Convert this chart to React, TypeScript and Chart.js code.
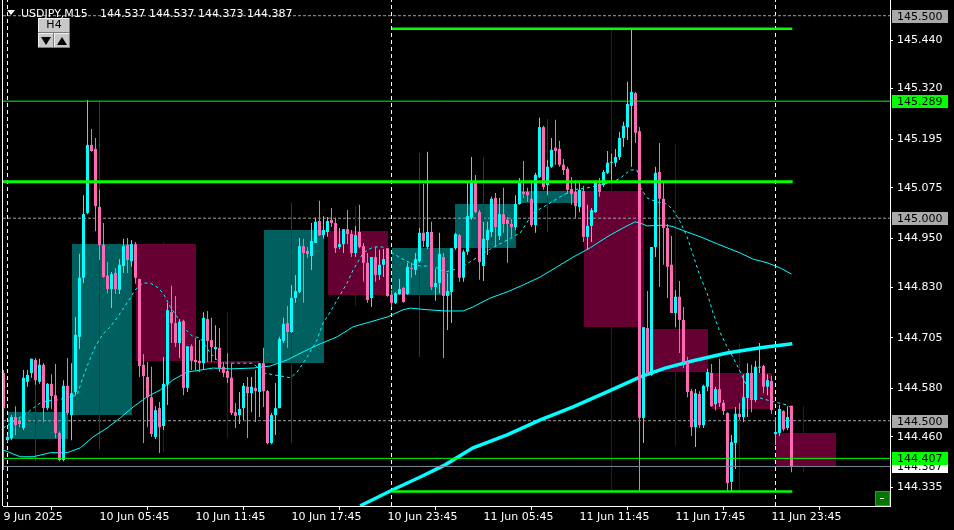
import React, { useEffect, useRef } from 'react';
import { Chart, registerables } from 'chart.js';

Chart.register(...registerables);

// ---------------- data ----------------
const symbol = 'USDJPY';
const timeframe = 'M15';

const opens = [
  144.618, 144.452, 144.457, 144.509, 144.499, 144.482, 144.596, 144.618, 144.650, 144.596,
  144.638, 144.531, 144.591, 144.563, 144.470, 144.403, 144.586, 144.514, 144.571, 144.707,
  144.853, 145.013, 145.181, 145.171, 145.028, 144.934, 144.858, 144.825, 144.865, 144.823,
  144.882, 144.934, 144.894, 144.936, 144.850, 144.638, 144.608, 144.558, 144.460, 144.531,
  144.487, 144.589, 144.768, 144.741, 144.692, 144.746, 144.581, 144.684, 144.650, 144.648,
  144.642, 144.751, 144.699, 144.677, 144.680, 144.633, 144.623, 144.606, 144.521, 144.514,
  144.531, 144.584, 144.568, 144.581, 144.571, 144.642, 144.573, 144.445, 144.514, 144.531,
  144.697, 144.741, 144.719, 144.803, 144.818, 144.931, 144.919, 144.907, 144.939, 144.993,
  144.958, 144.966, 144.996, 144.988, 144.929, 144.936, 144.973, 144.961, 144.914, 144.966,
  144.931, 144.890, 144.803, 144.904, 144.860, 144.885, 144.926, 144.811, 144.791, 144.813,
  144.828, 144.813, 144.877, 144.872, 144.894, 144.964, 144.929, 144.966, 144.830, 144.840,
  144.904, 144.808, 144.818, 144.926, 144.958, 144.853, 144.917, 145.001, 145.087, 145.015,
  144.882, 144.946, 144.966, 145.050, 144.956, 145.010, 144.996, 144.986, 144.978, 145.035,
  145.065, 145.065, 145.048, 144.983, 145.102, 145.225, 145.082, 145.127, 145.174, 145.171,
  145.132, 145.122, 145.072, 145.065, 145.028, 145.067, 144.954, 144.981, 145.015, 145.085,
  145.082, 145.112, 145.137, 145.137, 145.151, 145.198, 145.225, 145.277, 145.309, 145.215,
  144.507, 144.729, 144.613, 144.929, 145.114, 145.048, 144.976, 144.885, 144.766, 144.806,
  144.749, 144.645, 144.573, 144.484, 144.566, 144.489, 144.584, 144.618, 144.541, 144.578,
  144.544, 144.519, 144.349, 144.445, 144.517, 144.509, 144.556, 144.618, 144.551, 144.631,
  144.635, 144.584, 144.598, 144.467, 144.470, 144.524, 144.482, 144.537,
];
const highs = [
  144.625, 144.465, 144.514, 144.536, 144.507, 144.625, 144.625, 144.653, 144.655, 144.653,
  144.642, 144.593, 144.615, 144.640, 144.474, 144.600, 144.655, 144.642, 144.756, 144.912,
  145.057, 145.292, 145.220, 145.198, 145.070, 144.988, 144.892, 144.867, 144.877, 144.899,
  144.949, 144.951, 144.946, 144.941, 144.850, 144.665, 144.645, 144.633, 144.536, 144.546,
  144.657, 144.791, 144.833, 144.808, 144.751, 144.749, 144.684, 144.689, 144.704, 144.699,
  144.768, 144.771, 144.754, 144.736, 144.729, 144.645, 144.667, 144.642, 144.544, 144.571,
  144.593, 144.608, 144.608, 144.625, 144.642, 144.680, 144.576, 144.519, 144.593, 144.707,
  144.754, 144.783, 144.835, 144.860, 144.951, 144.949, 144.929, 144.988, 145.001, 145.043,
  145.005, 145.003, 145.025, 145.001, 144.976, 144.973, 145.020, 144.971, 144.981, 145.033,
  144.939, 144.914, 144.904, 144.929, 144.922, 144.924, 144.926, 144.823, 144.818, 144.850,
  144.830, 144.890, 144.890, 144.914, 144.976, 145.085, 145.164, 144.991, 144.875, 144.964,
  144.914, 144.865, 144.926, 144.964, 144.961, 144.922, 145.087, 145.151, 145.107, 145.020,
  144.991, 144.991, 145.053, 145.062, 145.050, 145.075, 145.003, 144.998, 145.057, 145.099,
  145.141, 145.075, 145.094, 145.112, 145.248, 145.228, 145.144, 145.198, 145.243, 145.191,
  145.146, 145.127, 145.102, 145.094, 145.092, 145.080, 145.033, 145.025, 145.092, 145.099,
  145.119, 145.166, 145.159, 145.171, 145.213, 145.238, 145.337, 145.465, 145.312, 145.225,
  144.731, 144.820, 144.929, 145.127, 145.186, 145.087, 144.986, 144.956, 144.823, 144.845,
  144.781, 144.657, 144.578, 144.578, 144.573, 144.589, 144.628, 144.640, 144.584, 144.653,
  144.551, 144.521, 144.465, 144.534, 144.544, 144.615, 144.642, 144.638, 144.648, 144.692,
  144.638, 144.615, 144.611, 144.509, 144.539, 144.526, 144.536, 144.537,
];
const lows = [
  144.378, 144.447, 144.452, 144.465, 144.484, 144.477, 144.584, 144.606, 144.589, 144.591,
  144.497, 144.526, 144.529, 144.457, 144.400, 144.400, 144.514, 144.452, 144.563, 144.677,
  144.840, 145.010, 145.164, 144.968, 144.897, 144.853, 144.815, 144.778, 144.813, 144.813,
  144.865, 144.865, 144.880, 144.838, 144.608, 144.445, 144.484, 144.460, 144.455, 144.420,
  144.477, 144.539, 144.692, 144.682, 144.655, 144.563, 144.571, 144.625, 144.625, 144.620,
  144.625, 144.645, 144.645, 144.650, 144.620, 144.608, 144.593, 144.514, 144.482, 144.492,
  144.502, 144.457, 144.521, 144.497, 144.509, 144.534, 144.442, 144.442, 144.465, 144.531,
  144.692, 144.680, 144.717, 144.791, 144.815, 144.791, 144.902, 144.872, 144.939, 144.956,
  144.949, 144.954, 144.978, 144.914, 144.924, 144.914, 144.936, 144.904, 144.904, 144.926,
  144.843, 144.791, 144.781, 144.843, 144.848, 144.855, 144.806, 144.781, 144.788, 144.811,
  144.791, 144.811, 144.853, 144.860, 144.890, 144.929, 144.924, 144.823, 144.796, 144.815,
  144.655, 144.724, 144.741, 144.922, 144.843, 144.843, 144.909, 144.996, 145.013, 144.848,
  144.845, 144.909, 144.954, 144.929, 144.946, 144.964, 144.890, 144.954, 144.971, 145.033,
  145.050, 145.040, 144.978, 144.964, 145.099, 145.070, 145.057, 145.124, 145.132, 145.127,
  145.107, 145.060, 145.033, 145.001, 145.015, 144.941, 144.922, 144.941, 145.013, 145.053,
  145.077, 145.109, 145.087, 145.127, 145.144, 145.176, 145.193, 145.127, 145.186, 144.327,
  144.445, 144.613, 144.611, 144.904, 144.830, 144.885, 144.803, 144.766, 144.731, 144.667,
  144.630, 144.558, 144.462, 144.435, 144.482, 144.482, 144.573, 144.534, 144.526, 144.534,
  144.514, 144.327, 144.327, 144.381, 144.502, 144.497, 144.509, 144.521, 144.546, 144.618,
  144.568, 144.563, 144.517, 144.440, 144.462, 144.474, 144.477, 144.373,
];
const closes = [
  144.531, 144.460, 144.509, 144.489, 144.492, 144.606, 144.613, 144.653, 144.600, 144.638,
  144.531, 144.591, 144.561, 144.470, 144.403, 144.586, 144.519, 144.568, 144.712, 144.853,
  145.010, 145.181, 145.166, 145.030, 144.934, 144.855, 144.825, 144.862, 144.825, 144.885,
  144.931, 144.897, 144.936, 144.853, 144.635, 144.610, 144.558, 144.467, 144.526, 144.484,
  144.591, 144.773, 144.741, 144.692, 144.744, 144.581, 144.684, 144.648, 144.645, 144.642,
  144.754, 144.697, 144.682, 144.682, 144.630, 144.618, 144.606, 144.519, 144.512, 144.529,
  144.586, 144.568, 144.584, 144.573, 144.642, 144.573, 144.445, 144.514, 144.531, 144.702,
  144.739, 144.719, 144.803, 144.820, 144.931, 144.914, 144.912, 144.944, 144.991, 144.958,
  144.971, 144.993, 144.988, 144.926, 144.936, 144.973, 144.961, 144.914, 144.958, 144.929,
  144.890, 144.798, 144.904, 144.860, 144.885, 144.899, 144.808, 144.791, 144.815, 144.825,
  144.793, 144.880, 144.875, 144.899, 144.964, 144.944, 144.966, 144.830, 144.840, 144.912,
  144.808, 144.820, 144.926, 144.961, 144.853, 144.917, 145.005, 145.087, 145.015, 144.892,
  144.949, 144.971, 145.048, 144.978, 145.010, 144.986, 144.986, 144.978, 145.035, 145.087,
  145.060, 145.057, 144.983, 145.107, 145.225, 145.077, 145.127, 145.169, 145.166, 145.132,
  145.119, 145.070, 145.060, 145.030, 145.070, 144.954, 144.981, 145.020, 145.087, 145.065,
  145.114, 145.137, 145.139, 145.151, 145.198, 145.228, 145.282, 145.312, 145.211, 144.507,
  144.731, 144.618, 144.929, 145.112, 145.048, 144.976, 144.880, 144.766, 144.806, 144.749,
  144.645, 144.571, 144.484, 144.568, 144.489, 144.586, 144.620, 144.536, 144.578, 144.544,
  144.524, 144.346, 144.447, 144.517, 144.509, 144.558, 144.618, 144.551, 144.633, 144.633,
  144.584, 144.600, 144.526, 144.472, 144.529, 144.479, 144.509, 144.387,
];

// H4 candles overlaid as boxes (start bar index, 16 M15 bars each)
const h4Start = [1, 17, 33, 49, 65, 81, 97, 113, 129, 145, 161, 177, 193];
const h4Open = [144.455, 144.514, 144.936, 144.648, 144.642, 144.969, 144.811, 144.926, 145.038, 145.067, 144.727, 144.618, 144.470];
const h4Close = [144.522, 144.936, 144.648, 144.642, 144.971, 144.811, 144.926, 145.035, 145.067, 144.731, 144.620, 144.529, 144.386];
const h4High = [144.655, 145.288, 144.941, 144.768, 145.038, 145.030, 145.161, 145.149, 145.245, 145.465, 145.183, 144.692, 144.536];
const h4Low = [144.400, 144.428, 144.423, 144.457, 144.445, 144.784, 144.657, 144.845, 144.966, 144.329, 144.438, 144.326, 144.373];
const h4Bars = 16;

// moving averages (bar index, value)
const maFastK = [-0.1, 5.9, 7.4, 9.2, 10.9, 13.4, 18.4, 19.9, 21.2, 22.9, 24.7, 26.7, 28.4, 30.9, 32.9, 34.9, 36.7, 38.4, 39.9, 41.7, 43.4, 44.9, 47.2, 49.2, 51.7, 54.2, 59.2, 62.4, 64.9, 71.7, 73.4, 75.9, 78.4, 79.9, 81.7, 83.4, 85.9, 87.4, 89.9, 92.4, 94.7, 96.7, 99.2, 102.2, 104.2, 107.4, 110.4, 114.2, 117.4, 121.7, 125.9, 129.2, 132.4, 135.9, 139.2, 142.4, 145.9, 149.2, 152.4, 154.2, 156.7, 158.4, 159.2, 160.9, 163.4, 165.9, 167.4, 169.2, 170.9, 172.4, 174.2, 175.9, 177.4, 179.2, 180.9, 182.4, 184.2, 185.9, 187.4, 189.2, 191.7, 193.7, 195.9, 197.0];
const maFastV = [144.482, 144.519, 144.531, 144.544, 144.549, 144.551, 144.563, 144.608, 144.642, 144.682, 144.712, 144.732, 144.754, 144.791, 144.823, 144.840, 144.840, 144.830, 144.815, 144.781, 144.756, 144.732, 144.709, 144.704, 144.667, 144.642, 144.642, 144.642, 144.618, 144.606, 144.620, 144.657, 144.700, 144.741, 144.769, 144.798, 144.840, 144.872, 144.914, 144.929, 144.929, 144.917, 144.902, 144.887, 144.882, 144.882, 144.867, 144.877, 144.897, 144.924, 144.946, 144.964, 145.013, 145.033, 145.053, 145.070, 145.075, 145.082, 145.090, 145.099, 145.119, 145.119, 145.077, 145.050, 145.040, 145.035, 145.020, 144.991, 144.954, 144.909, 144.855, 144.815, 144.766, 144.717, 144.682, 144.657, 144.620, 144.583, 144.563, 144.556, 144.549, 144.544, 144.539, 144.531];
const maMidK = [-0.1, 4.2, 7.4, 11.7, 15.9, 19.2, 22.4, 25.9, 29.2, 32.4, 35.9, 39.2, 42.4, 45.9, 49.2, 52.4, 56.7, 62.4, 66.7, 70.9, 74.9, 79.2, 83.4, 87.4, 91.7, 95.9, 99.9, 101.7, 105.9, 110.4, 114.9, 117.4, 121.7, 125.9, 129.9, 134.2, 138.4, 142.4, 146.7, 150.9, 154.9, 157.9, 159.2, 160.9, 165.4, 167.4, 170.9, 174.2, 177.4, 180.9, 184.2, 187.4, 190.9, 194.2, 197.0];
const maMidV = [144.428, 144.411, 144.411, 144.421, 144.421, 144.433, 144.460, 144.482, 144.507, 144.534, 144.559, 144.576, 144.601, 144.620, 144.625, 144.630, 144.628, 144.630, 144.635, 144.650, 144.670, 144.690, 144.707, 144.732, 144.744, 144.756, 144.774, 144.778, 144.774, 144.771, 144.771, 144.781, 144.803, 144.818, 144.835, 144.855, 144.880, 144.904, 144.927, 144.954, 144.976, 144.991, 144.988, 144.981, 144.983, 144.979, 144.966, 144.954, 144.941, 144.927, 144.914, 144.899, 144.890, 144.877, 144.862];
const maSlowK = [89.2, 97.2, 104.2, 110.4, 117.4, 125.9, 134.2, 142.4, 150.9, 159.2, 165.4, 172.4, 180.9, 189.2, 197.2];
const maSlowV = [144.290, 144.329, 144.361, 144.391, 144.433, 144.465, 144.502, 144.534, 144.571, 144.608, 144.630, 144.648, 144.667, 144.680, 144.690];

// horizontal levels
const roundLevels = [145.5, 145.0, 144.5];
const daySeparators = [1, 97, 193];
const prevHigh = 145.289;
const supportLevel = 144.407;
const bidPrice = 144.387;
const resistanceLevel = 145.09;
const resistanceEnd = 197.3;
const dayHigh = 145.468;
const dayLow = 144.325;
const dayFrom = 97.1;
const dayTo = 197.2;

// axes
const yTicks = [145.44, 145.32, 145.195, 145.075, 144.95, 144.83, 144.705, 144.58, 144.46, 144.335];
const xTickIdx = [0, 24, 48, 72, 96, 120, 144, 168, 192];
const xTickLabels = ['9 Jun 2025', '10 Jun 05:45', '10 Jun 11:45', '10 Jun 17:45', '10 Jun 23:45', '11 Jun 05:45', '11 Jun 11:45', '11 Jun 17:45', '11 Jun 23:45'];

// ---------------- styling ----------------
const X_MIN = -0.125;
const X_MAX = 221.625;
const Y_MIN = 144.2894;
const Y_MAX = 145.5388;
const UP = '#00ffff';
const DOWN = '#ff69b4';
const BOX_UP = '#005f5f';
const BOX_DOWN = '#660033';
const WICK_UP = '#0b4646';
const WICK_DOWN = '#52082a';
const GREEN = '#00ff00';
const FONT = 'DejaVu Sans';

const idx = opens.map((_, i) => i);
const candleColors = idx.map((i) => (closes[i] >= opens[i] ? UP : DOWN));
const bodyData = idx.map((i) => ({ x: i, y: [opens[i], closes[i]] }));
const wickData = idx.map((i) => ({ x: i, y: [lows[i], highs[i]] }));
const h4WickData = h4Start.map((s, j) => ({ x: s + 7, y: [h4Low[j], h4High[j]] }));
const h4WickColors = h4Start.map((_, j) => (h4Close[j] >= h4Open[j] ? WICK_UP : WICK_DOWN));

function lineSet(points: { x: number; y: number }[], color: string, width: number, order: number, dash: number[] = []) {
  return {
    type: 'line' as const,
    data: points,
    borderColor: color,
    borderWidth: width,
    borderDash: dash,
    borderCapStyle: 'butt',
    pointRadius: 0,
    pointHoverRadius: 0,
    fill: false,
    tension: 0,
    order,
  };
}

const overlayPlugin = {
  id: 'mtOverlay',
  beforeDraw(chart: any) {
    const { ctx, width, height } = chart;
    ctx.save();
    ctx.fillStyle = '#000';
    ctx.fillRect(0, 0, width, height);
    ctx.restore();
  },
  beforeDatasetsDraw(chart: any) {
    const { ctx, chartArea } = chart;
    const xs = chart.scales.x;
    const ys = chart.scales.y;
    ctx.save();
    ctx.beginPath();
    ctx.rect(chartArea.left, chartArea.top, chartArea.right - chartArea.left, chartArea.bottom - chartArea.top);
    ctx.clip();
    h4Start.forEach((s, j) => {
      const x0 = Math.round(xs.getPixelForValue(s));
      const x1 = Math.round(xs.getPixelForValue(s + h4Bars - 1));
      const yTop = Math.round(ys.getPixelForValue(Math.max(h4Open[j], h4Close[j])));
      const yBot = Math.round(ys.getPixelForValue(Math.min(h4Open[j], h4Close[j])));
      ctx.fillStyle = h4Close[j] >= h4Open[j] ? BOX_UP : BOX_DOWN;
      ctx.fillRect(x0, yTop, x1 - x0, Math.max(2, yBot - yTop));
    });
    ctx.restore();
  },
  afterDraw(chart: any) {
    const { ctx, chartArea } = chart;
    const ys = chart.scales.y;
    ctx.save();
    // left frame
    ctx.fillStyle = '#fff';
    ctx.fillRect(2, chartArea.top, 1, chartArea.bottom - chartArea.top);

    // price tags
    const tags = [
      ...roundLevels.map((p) => ({ p, bg: '#a9a9a9' })),
      { p: bidPrice, bg: '#ffffff' },
      { p: prevHigh, bg: GREEN },
      { p: supportLevel, bg: GREEN },
    ];
    ctx.font = `11px "${FONT}"`;
    ctx.textBaseline = 'middle';
    ctx.textAlign = 'left';
    tags.forEach((t) => {
      const y = ys.getPixelForValue(t.p);
      const top = Math.round(y - 6);
      ctx.fillStyle = t.bg;
      ctx.fillRect(892, top, 56, 13);
      ctx.fillStyle = '#000';
      ctx.fillText(t.p.toFixed(3), 897, top + 7);
    });

    // header
    const last = opens.length - 1;
    ctx.fillStyle = '#fff';
    ctx.beginPath();
    ctx.moveTo(7, 10);
    ctx.lineTo(15, 10);
    ctx.lineTo(11, 15);
    ctx.closePath();
    ctx.fill();
    ctx.textBaseline = 'alphabetic';
    ctx.fillText(`${symbol},${timeframe}`, 21, 17);
    ctx.fillText(
      [opens[last], highs[last], lows[last], closes[last]].map((v) => v.toFixed(3)).join(' '),
      100,
      17
    );

    // H4 button
    const btn = (x: number, y: number, w: number, h: number) => {
      ctx.fillStyle = '#c8c8c8';
      ctx.fillRect(x, y, w, h);
      ctx.fillStyle = '#f0f0f0';
      ctx.fillRect(x, y, w, 1);
      ctx.fillRect(x, y, 1, h);
      ctx.fillStyle = '#7a7a7a';
      ctx.fillRect(x, y + h - 1, w, 1);
      ctx.fillRect(x + w - 1, y, 1, h);
    };
    btn(38, 18, 32, 15);
    btn(38, 33, 16, 15);
    btn(54, 33, 16, 15);
    ctx.fillStyle = '#000';
    ctx.textAlign = 'center';
    ctx.textBaseline = 'middle';
    ctx.fillText('H4', 54, 25.5);
    ctx.beginPath();
    ctx.moveTo(41, 37);
    ctx.lineTo(51, 37);
    ctx.lineTo(46, 45);
    ctx.closePath();
    ctx.fill();
    ctx.beginPath();
    ctx.moveTo(57, 45);
    ctx.lineTo(67, 45);
    ctx.lineTo(62, 37);
    ctx.closePath();
    ctx.fill();

    // small green button bottom-right
    ctx.fillStyle = '#1aa81a';
    ctx.fillRect(875, 491, 15, 15);
    ctx.fillStyle = '#007800';
    ctx.fillRect(876, 492, 13, 13);
    ctx.fillStyle = '#fff';
    ctx.fillRect(880, 498, 4, 1);
    ctx.restore();
  },
};

export default function App() {
  const ref = useRef<HTMLCanvasElement>(null);
  useEffect(() => {
    const canvas = ref.current;
    if (!canvas) return;
    Chart.defaults.font.family = FONT;
    Chart.defaults.font.size = 11;

    const datasets: any[] = [
      // levels (top)
      lineSet([{ x: X_MIN, y: bidPrice }, { x: X_MAX, y: bidPrice }], '#778899', 1, 0),
      lineSet([{ x: X_MIN, y: supportLevel }, { x: X_MAX, y: supportLevel }], GREEN, 1, 0),
      lineSet([{ x: X_MIN, y: prevHigh }, { x: X_MAX, y: prevHigh }], GREEN, 1, 0),
      lineSet([{ x: X_MIN, y: resistanceLevel }, { x: resistanceEnd, y: resistanceLevel }], GREEN, 3, 0),
      lineSet([{ x: dayFrom, y: dayHigh }, { x: dayTo, y: dayHigh }], GREEN, 2.5, 0),
      lineSet([{ x: dayFrom, y: dayLow }, { x: dayTo, y: dayLow }], GREEN, 2.5, 0),
      // candles
      {
        type: 'bar', data: bodyData, backgroundColor: candleColors, borderWidth: 0,
        barThickness: 3, grouped: false, minBarLength: 1, inflateAmount: 0, order: 1,
      },
      {
        type: 'bar', data: wickData, backgroundColor: candleColors, borderWidth: 0,
        barThickness: 1, grouped: false, inflateAmount: 0, order: 2,
      },
      // moving averages
      lineSet(maSlowK.map((k, i) => ({ x: k, y: maSlowV[i] })), UP, 3.5, 3),
      lineSet(maMidK.map((k, i) => ({ x: k, y: maMidV[i] })), UP, 1, 4),
      lineSet(maFastK.map((k, i) => ({ x: k, y: maFastV[i] })), UP, 1, 5, [3, 3]),
      // H4 wicks
      {
        type: 'bar', data: h4WickData, backgroundColor: h4WickColors, borderWidth: 0,
        barThickness: 1, grouped: false, inflateAmount: 0, order: 6,
      },
      // grid-like lines
      ...roundLevels.map((p) => lineSet([{ x: X_MIN, y: p }, { x: X_MAX, y: p }], '#a0a0a0', 1, 7, [3, 2])),
      ...daySeparators.map((k) => lineSet([{ x: k, y: Y_MIN }, { x: k, y: Y_MAX }], '#ffffff', 1, 7, [4, 3])),
    ];

    const chart = new Chart(canvas, {
      type: 'bar',
      data: { datasets },
      plugins: [overlayPlugin],
      options: {
        animation: false,
        responsive: false,
        devicePixelRatio: 1,
        events: [],
        layout: { padding: { left: 3, right: 0, top: 0, bottom: 0 } },
        plugins: { legend: { display: false }, tooltip: { enabled: false } },
        scales: {
          x: {
            type: 'linear',
            position: 'bottom',
            min: X_MIN,
            max: X_MAX,
            offset: false,
            afterBuildTicks: (s: any) => { s.ticks = xTickIdx.map((v) => ({ value: v })); },
            afterFit: (s: any) => { s.height = 24; s.paddingLeft = 0; s.paddingRight = 0; },
            ticks: {
              color: '#fff', align: 'start', maxRotation: 0, minRotation: 0, autoSkip: false, padding: 1,
              font: { family: FONT, size: 11 },
              callback: (_v: any, i: number) => xTickLabels[i],
            },
            grid: { drawOnChartArea: false, drawTicks: true, tickLength: 4, color: '#fff' },
            border: { display: true, color: '#fff' },
          },
          y: {
            type: 'linear',
            position: 'right',
            min: Y_MIN,
            max: Y_MAX,
            afterBuildTicks: (s: any) => { s.ticks = yTicks.map((v) => ({ value: v })); },
            afterFit: (s: any) => { s.width = 64; s.paddingTop = 0; s.paddingBottom = 0; },
            ticks: {
              color: '#fff', autoSkip: false, padding: 4,
              font: { family: FONT, size: 11 },
              callback: (v: any) => Number(v).toFixed(3),
            },
            grid: { drawOnChartArea: false, drawTicks: true, tickLength: 3, color: '#fff' },
            border: { display: true, color: '#fff' },
          },
        },
      } as any,
    } as any);
    return () => chart.destroy();
  }, []);

  return (
    <div style={{ position: 'fixed', left: 0, top: 0, width: 954, height: 530, background: '#000' }}>
      <canvas ref={ref} width={954} height={530} style={{ display: 'block', width: 954, height: 530 }} />
    </div>
  );
}
